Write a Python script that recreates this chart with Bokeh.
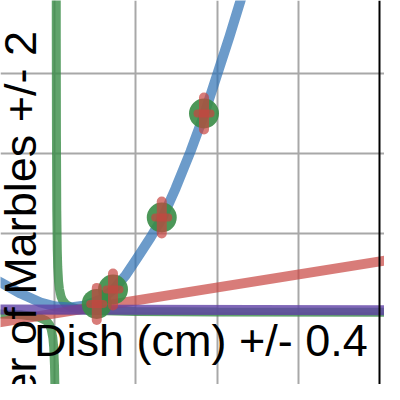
from bokeh.plotting import figure
from bokeh.models import Range1d, FixedTicker, Span
from bokeh.core.properties import value
from bokeh.embed import file_html
from bokeh.resources import INLINE

# measured points (diameter in cm, number of marbles)
diameter = [2.6, 3.6, 6.6, 9.2]
marbles = [1.2, 3.0, 12.0, 25.0]
x_err = 0.4
y_err = 2

# blue fit curve
fit_x = [-3.6, -3.32, -2.09, -0.86, 0.06, 0.98, 1.91, 2.83, 3.63, 4.37, 5.11,
         5.91, 6.65, 7.45, 8.37, 9.23, 10.03, 10.77, 11.45, 11.82]
fit_y = [4.2, 3.88, 2.5, 1.38, 0.88, 0.75, 1.0, 1.75, 3.0, 4.75, 7.0,
         9.5, 12.0, 15.63, 20.25, 25.0, 30.0, 34.63, 39.13, 41.63]

# red straight line
lin_x = [-4, 22]
lin_y = [-1.3, 7.15]

# purple flat line
flat_x = [-4, 22]
flat_y = [0.5, 0.4]

# green curve, right branch and left branch
hyp_right_x = [0.108, 0.11, 0.12, 0.14, 0.17, 0.2, 0.25, 0.3, 0.4, 0.5, 0.7,
               1.0, 1.5, 2.5, 5, 10, 22]
hyp_right_y = [40.5, 34.3, 22.1, 12.9, 8.0, 5.8, 4.0, 3.08, 2.12, 1.63, 1.14,
               0.8, 0.56, 0.38, 0.25, 0.19, 0.15]
hyp_left_x = [-4, -2, -1, -0.5, -0.3, -0.2, -0.1, -0.05, 0, 0.03, 0.05]
hyp_left_y = [-0.03, -0.17, -0.44, -0.91, -1.44, -1.98, -3.08, -4.2, -6.56, -9.8, -14.5]

x_grid = [0, 5, 10, 15]
y_grid = [-10, 0, 10, 20, 30]
axis_x = 20

x_label = "Dish (cm) +/- 0.4"
y_label = "Number of Marbles +/- 2"

p = figure(width=384, height=384, output_backend="svg", toolbar_location=None,
           x_axis_location=None, y_axis_location=None, min_border=0,
           x_range=Range1d(-3.3231, 20.3077), y_range=Range1d(-8.875, 39.125))
p.outline_line_color = None
p.xgrid.ticker = FixedTicker(ticks=x_grid)
p.ygrid.ticker = FixedTicker(ticks=y_grid)
p.grid.grid_line_color = "#a8a8a8"
p.grid.grid_line_width = 2
p.grid.grid_line_alpha = 1

p.add_layout(Span(location=axis_x, dimension="height", line_color="black", line_width=2))

green = "#388c46"
blue = "#2d70b3"
red = "#c74440"
purple = "#6042a6"

p.line(hyp_right_x, hyp_right_y, line_color=green, line_width=9, line_alpha=0.8)
p.line(hyp_left_x, hyp_left_y, line_color=green, line_width=9, line_alpha=0.8)
p.line(fit_x, fit_y, line_color=blue, line_width=10, line_alpha=0.7, line_join="round")
p.line(lin_x, lin_y, line_color=red, line_width=10, line_alpha=0.7)
p.line(flat_x, flat_y, line_color=purple, line_width=10, line_alpha=0.8)

p.scatter(diameter, marbles, size=30, fill_color=green, fill_alpha=0.9, line_color=None)

x_lo = [d - x_err for d in diameter]
x_hi = [d + x_err for d in diameter]
y_lo = [m - y_err for m in marbles]
y_hi = [m + y_err for m in marbles]
p.segment(x_lo, marbles, x_hi, marbles, line_color=red, line_width=8,
          line_alpha=0.7, line_cap="round")
p.segment(diameter, y_lo, diameter, y_hi, line_color=red, line_width=10,
          line_alpha=0.7, line_cap="round")

p.text([-1.26], [-3.375], text=[x_label], text_font=value("Liberation Sans"),
       text_font_size="45px", text_color="black", text_align="left",
       text_baseline="alphabetic")
p.text([-2.09], [35.31], text=[y_label], angle=1.5708, text_font=value("Liberation Sans"),
       text_font_size="45px", text_color="black", text_align="right",
       text_baseline="alphabetic")

open("out.html", "w").write(file_html(p, INLINE))
